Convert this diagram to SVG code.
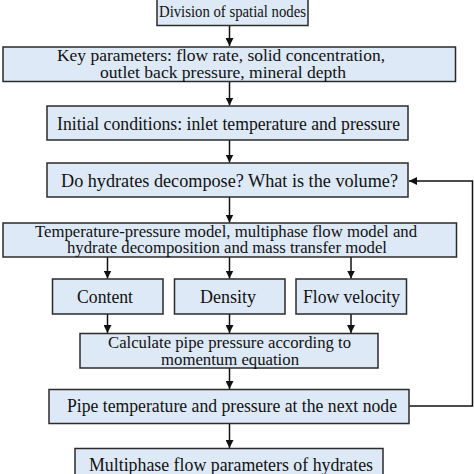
<svg xmlns="http://www.w3.org/2000/svg" width="474" height="474" viewBox="0 0 474 474">
<defs>
<style>
.box{fill:#dde9f7;stroke:#2b2b2b;stroke-width:1.5}
.t{font-family:"Liberation Serif",serif;font-size:18px;fill:#111}
.s{font-family:"Liberation Serif",serif;font-size:16px;fill:#111}
.c{fill:none;stroke:#111;stroke-width:1.5}
</style>
<marker id="ah" viewBox="0 0 10 10" refX="10" refY="5" markerWidth="8" markerHeight="8" markerUnits="userSpaceOnUse" orient="auto">
<path d="M0,0 L10,5 L0,10 z" fill="#111"/>
</marker>
</defs>
<rect width="474" height="474" fill="#ffffff"/>
<g id="connectors">
<line class="c" x1="229.5" y1="26" x2="229.5" y2="46" marker-end="url(#ah)"/>
<line class="c" x1="229.5" y1="82" x2="229.5" y2="105.5" marker-end="url(#ah)"/>
<line class="c" x1="229.5" y1="140" x2="229.5" y2="162.5" marker-end="url(#ah)"/>
<line class="c" x1="229.5" y1="197" x2="229.5" y2="222.5" marker-end="url(#ah)"/>
<line class="c" x1="107.5" y1="257" x2="107.5" y2="278.5" marker-end="url(#ah)"/>
<line class="c" x1="229.5" y1="257" x2="229.5" y2="278.5" marker-end="url(#ah)"/>
<line class="c" x1="351" y1="257" x2="351" y2="278.5" marker-end="url(#ah)"/>
<line class="c" x1="107.5" y1="314" x2="107.5" y2="333" marker-end="url(#ah)"/>
<line class="c" x1="229.5" y1="314" x2="229.5" y2="333" marker-end="url(#ah)"/>
<line class="c" x1="351" y1="314" x2="351" y2="333" marker-end="url(#ah)"/>
<line class="c" x1="229.5" y1="368" x2="229.5" y2="389" marker-end="url(#ah)"/>
<line class="c" x1="229.5" y1="423.5" x2="229.5" y2="448" marker-end="url(#ah)"/>
<polyline class="c" points="409.5,406 472.5,406 472.5,181 409,181" marker-end="url(#ah)"/>
</g>
<g id="n1"><rect class="box" x="157" y="-2" width="151" height="27.5"/>
<text class="s" x="159" y="17" textLength="147" lengthAdjust="spacingAndGlyphs">Division of spatial nodes</text></g>
<g id="n2"><rect class="box" x="3" y="47" width="452.5" height="34.5"/>
<text class="s" x="57" y="61" textLength="328" lengthAdjust="spacingAndGlyphs">Key parameters: flow rate, solid concentration,</text>
<text class="s" x="100" y="77.5" textLength="246" lengthAdjust="spacingAndGlyphs">outlet back pressure, mineral depth</text></g>
<g id="n3"><rect class="box" x="47" y="106" width="361" height="34"/>
<text class="t" x="57" y="130" textLength="343" lengthAdjust="spacingAndGlyphs">Initial conditions: inlet temperature and pressure</text></g>
<g id="n4"><rect class="box" x="47" y="163" width="361" height="34"/>
<text class="t" x="61" y="187" textLength="337" lengthAdjust="spacingAndGlyphs">Do hydrates decompose?  What is the volume?</text></g>
<g id="n5"><rect class="box" x="3" y="223" width="453.5" height="34"/>
<text class="s" x="35" y="237" textLength="382" lengthAdjust="spacingAndGlyphs">Temperature-pressure model, multiphase flow model and</text>
<text class="s" x="67" y="252.5" textLength="320" lengthAdjust="spacingAndGlyphs">hydrate decomposition and mass transfer model</text></g>
<g id="n6"><rect class="box" x="52.5" y="279" width="110.5" height="35"/>
<text class="t" x="77" y="302.5" textLength="56" lengthAdjust="spacingAndGlyphs">Content</text></g>
<g id="n7"><rect class="box" x="174.5" y="279" width="110.5" height="35"/>
<text class="t" x="200" y="302.5" textLength="56" lengthAdjust="spacingAndGlyphs">Density</text></g>
<g id="n8"><rect class="box" x="296" y="279" width="110.5" height="35"/>
<text class="t" x="303" y="302.5" textLength="97" lengthAdjust="spacingAndGlyphs">Flow velocity</text></g>
<g id="n9"><rect class="box" x="80" y="333.5" width="298" height="34.5"/>
<text class="s" x="108" y="348" textLength="243" lengthAdjust="spacingAndGlyphs">Calculate pipe pressure according to</text>
<text class="s" x="161" y="364.5" textLength="138" lengthAdjust="spacingAndGlyphs">momentum equation</text></g>
<g id="n10"><rect class="box" x="49" y="389.5" width="360" height="34"/>
<text class="t" x="67" y="411.5" textLength="330" lengthAdjust="spacingAndGlyphs">Pipe temperature and pressure at the next node</text></g>
<g id="n11"><rect class="box" x="75" y="448.5" width="308" height="30"/>
<text class="t" x="89" y="471" textLength="284" lengthAdjust="spacingAndGlyphs">Multiphase flow parameters of hydrates</text></g>
</svg>
